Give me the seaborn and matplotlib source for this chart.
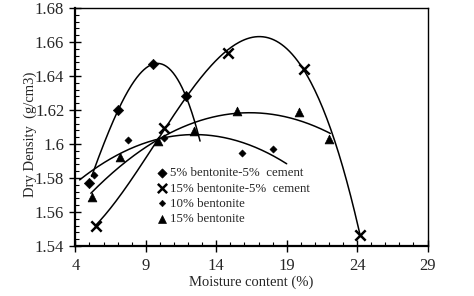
import numpy as np
import pandas as pd
import matplotlib
matplotlib.use("Agg")
import matplotlib.pyplot as plt
from matplotlib.ticker import MultipleLocator
import seaborn as sns

# ---- data ----
series_names = ["5% bentonite-5%  cement", "15% bentonite-5%  cement",
                "10% bentonite", "15% bentonite"]

x_5b5c = [4.98, 7.04, 9.52, 11.85]
y_5b5c = [1.577, 1.620, 1.647, 1.628]

x_15b5c = [5.46, 10.29, 14.81, 20.25, 24.2]
y_15b5c = [1.552, 1.6095, 1.6535, 1.6443, 1.5464]

x_10b = [5.34, 7.71, 10.31, 15.8, 18.0]
y_10b = [1.5816, 1.6023, 1.6037, 1.5949, 1.5972]

x_15b = [5.15, 7.18, 9.88, 12.45, 15.45, 19.9, 22.03]
y_15b = [1.569, 1.5925, 1.6015, 1.6076, 1.6193, 1.619, 1.603]

# trendline orders and drawn extents
trend_order = [3, 3, 2, 2]
trend_range = [(5.15, 12.85), (5.46, 24.2), (4.3, 19.0), (5.1, 22.1)]

xs = [x_5b5c, x_15b5c, x_10b, x_15b]
ys = [y_5b5c, y_15b5c, y_10b, y_15b]
markers = ["D", "X", "D", "^"]
msizes = [28, 55, 14, 40]

sns.set_theme(style="white")
plt.rcParams["font.family"] = ["Liberation Serif", "DejaVu Serif"]

fig = plt.figure(figsize=(4.74, 2.96), dpi=100)
ax = fig.add_axes([0.159, 0.169, 0.743, 0.804])

for name, x, y, m, s, order, (a, b) in zip(series_names, xs, ys, markers,
                                           msizes, trend_order, trend_range):
    coef = np.polyfit(x, y, order)
    xx = np.linspace(a, b, 200)
    curve = pd.DataFrame({"x": xx, "y": np.polyval(coef, xx)})
    sns.lineplot(data=curve, x="x", y="y", ax=ax, color="black", lw=1.1,
                 sort=False, legend=False)
    pts = pd.DataFrame({"x": x, "y": y})
    if m == "X":
        ax.scatter(pts["x"], pts["y"], marker="x", s=s, color="black",
                   linewidths=1.8, zorder=3, label=name)
    else:
        sns.scatterplot(data=pts, x="x", y="y", ax=ax, marker=m, s=s,
                        color="black", edgecolor="black", zorder=3,
                        label=name, legend=False)

ax.set_xlim(4, 29)
ax.set_ylim(1.54, 1.68)
ax.xaxis.set_minor_locator(MultipleLocator(1))
ax.yaxis.set_minor_locator(MultipleLocator(0.004))
ax.set_xticks([4, 9, 14, 19, 24, 29])
ax.set_xticklabels(["4", "9", "14", "19", "24", "29"])
ax.set_yticks([1.54, 1.56, 1.58, 1.6, 1.62, 1.64, 1.66, 1.68])
ax.set_yticklabels(["1.54", "1.56", "1.58", "1.6", "1.62", "1.64", "1.66", "1.68"])
ax.tick_params(which="major", direction="inout", length=8, width=1.0,
               labelsize=12, color="black", bottom=True, left=True)
ax.tick_params(axis="x", which="major", pad=5)
ax.tick_params(axis="y", which="major", pad=4)
ax.tick_params(which="minor", direction="in", length=3, width=0.8,
               color="black", bottom=True, left=True)
for sp in ax.spines.values():
    sp.set_color("black")
    sp.set_linewidth(1.0)
ax.spines["left"].set_linewidth(1.6)
ax.spines["bottom"].set_linewidth(1.6)

ax.set_xlabel("Moisture content (%)", fontsize=10.5, labelpad=1)
ax.set_ylabel("Dry Density  (g/cm3)", fontsize=10.5, labelpad=3)
ax.yaxis.set_label_coords(-0.108, 0.47)

h, l = ax.get_legend_handles_labels()
leg = ax.legend(h, l, loc="upper left", bbox_to_anchor=(0.218, 0.358),
                frameon=False, fontsize=9.3, handlelength=0.6,
                handletextpad=0.25, labelspacing=0.25, borderpad=0,
                markerscale=0.9)

fig.savefig("out.png", dpi=100)
